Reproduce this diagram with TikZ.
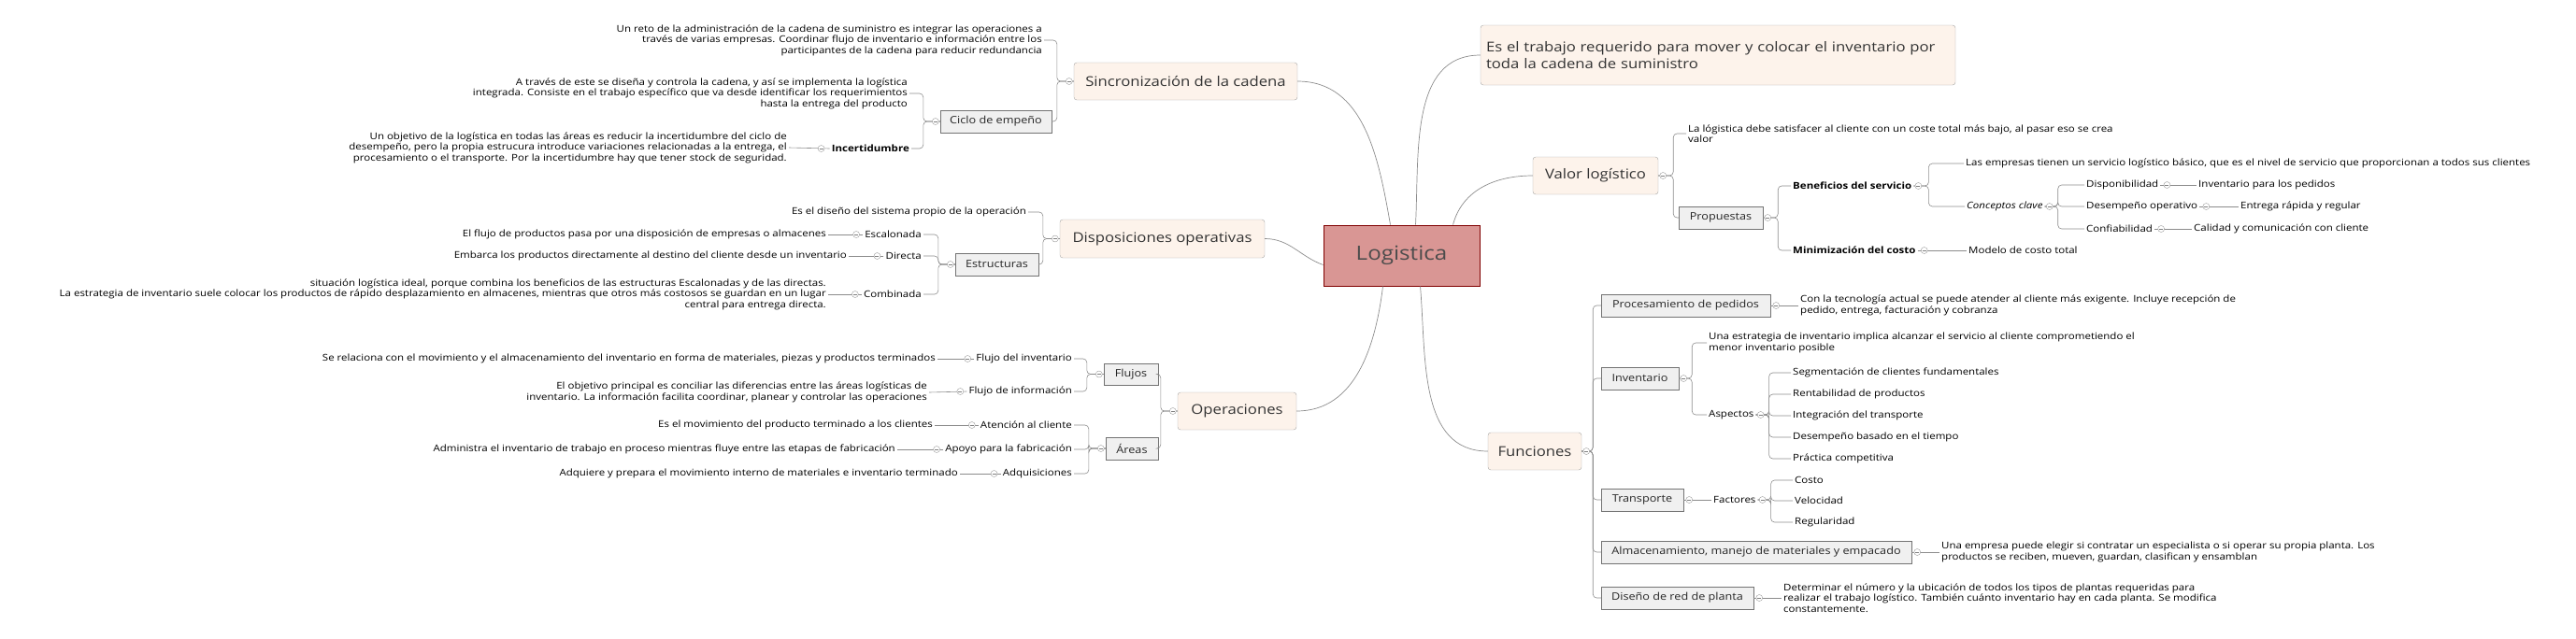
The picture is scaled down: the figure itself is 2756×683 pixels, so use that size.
\documentclass[tikz,border=0pt]{standalone}
\usepackage{fontspec}
\setmainfont{Open Sans}[FakeStretch=1.15]
\definecolor{cbox}{RGB}{217,150,148}
\definecolor{mfill}{RGB}{253,243,235}
\begin{document}
\begin{tikzpicture}[x=1pt,y=-1pt,
  every node/.style={inner sep=2pt, font=\fontsize{10}{11.5}\selectfont},
  mainbox/.style={draw=black!35, fill=mfill, rounded corners=3pt, font=\fontsize{14.5}{18.5}\selectfont, text=black!80},
  subbox/.style={draw=black!55, fill=black!6, font=\fontsize{11}{13}\selectfont, text=black!85},
  lt/.style={align=right, anchor=east},
  rt/.style={align=left, anchor=west},
  br/.style={draw=black!45, rounded corners=4pt, line width=0.6pt},
  cv/.style={draw=black!45, line width=0.7pt},
  clp/.style={circle, draw=black!40, fill=white, minimum size=7pt, inner sep=0pt,
     path picture={\draw[black!50] ([xshift=-2pt]path picture bounding box.center)--([xshift=2pt]path picture bounding box.center);}}
]
\path[use as bounding box] (0,0) rectangle (2756,683);

% ---------- center ----------
\node[draw=red!50!black, fill=cbox, line width=1pt, minimum width=167, minimum height=65, font=\fontsize{21}{26}\selectfont, text=black!70] (log) at (1499.5,273.5) {Logistica};

% ---------- main nodes ----------
\node[mainbox, minimum width=239, minimum height=40] (sinc) at (1268.5,87) {Sincronización de la cadena};
\node[mainbox, minimum width=219, minimum height=41] (disp) at (1243.5,255.5) {Disposiciones operativas};
\node[mainbox, minimum width=127, minimum height=40] (oper) at (1323.5,440) {Operaciones};
\node[mainbox, minimum width=508, minimum height=64, text width=496, align=left, inner sep=6pt] (top) at (1838,59) {Es el trabajo requerido para mover y colocar el inventario por\\toda la cadena de suministro};
\node[mainbox, minimum width=134, minimum height=40] (valor) at (1707,188) {Valor logístico};
\node[mainbox, minimum width=100, minimum height=40] (func) at (1642,483) {Funciones};

\draw[cv] ([xshift=-12pt]log.north) to[out=100,in=0] (sinc.east);
\draw[cv] ([xshift=15pt]log.north) to[out=87,in=180] (top.west);
\draw[cv] ([xshift=55pt]log.north) to[out=75,in=180] (valor.west);
\draw[cv] ([yshift=-10pt]log.west) to[out=160,in=0] (disp.east);
\draw[cv] ([xshift=-20pt]log.south) to[out=-97,in=0] (oper.east);
\draw[cv] ([xshift=20pt]log.south) to[out=-85,in=180] (func.west);

% ---------- Sincronizacion ----------
\node[lt] (tsinc) at (1117,43) {Un reto de la administración de la cadena de suministro es integrar las operaciones a\\través de varias empresas. Coordinar flujo de inventario e información entre los\\participantes de la cadena para reducir redundancia};
\node[subbox, minimum width=119, minimum height=24] (ciclo) at (1065.5,130) {Ciclo de empeño};
\node[lt] (tciclo) at (973,100) {A través de este se diseña y controla la cadena, y así se implementa la logística\\integrada. Consiste en el trabajo específico que va desde identificar los requerimientos\\hasta la entrega del producto};
\node[lt, font=\fontsize{10}{11.5}\selectfont\bfseries] (incert) at (975,159) {Incertidumbre};
\node[lt] (tincert) at (844,158) {Un objetivo de la logística en todas las áreas es reducir la incertidumbre del ciclo de\\desempeño, pero la propia estrucura introduce variaciones relacionadas a la entrega, el\\procesamiento o el transporte. Por la incertidumbre hay que tener stock de seguridad.};
\foreach \c in {tsinc,ciclo} \draw[br] (sinc.west) -- ++(-18,0) |- (\c.east);
\foreach \c in {tciclo,incert} \draw[br] (ciclo.west) -- ++(-18,0) |- (\c.east);
\draw[br] (incert.west) -- (tincert.east);
\node[clp] at ([xshift=-5pt]sinc.west) {};
\node[clp] at ([xshift=-5pt]ciclo.west) {};
\node[clp] at ([xshift=-9pt]incert.west) {};

% ---------- Disposiciones ----------
\node[lt] (tdisp) at (1100,227) {Es el diseño del sistema propio de la operación};
\node[subbox, minimum width=89, minimum height=24] (estr) at (1066.5,283) {Estructuras};
\node[lt] (escal) at (988,251) {Escalonada};
\node[lt] (tescal) at (886,251) {El flujo de productos pasa por una disposición de empresas o almacenes};
\node[lt] (direc) at (988,274) {Directa};
\node[lt] (tdirec) at (908,274) {Embarca los productos directamente al destino del cliente desde un inventario};
\node[lt] (comb) at (988,315) {Combinada};
\node[lt] (tcomb) at (886,315) {situación logística ideal, porque combina los beneficios de las estructuras Escalonadas y de las directas.\\La estrategia de inventario suele colocar los productos de rápido desplazamiento en almacenes, mientras que otros más costosos se guardan  en un lugar\\central para entrega directa.};
\foreach \c in {tdisp,estr} \draw[br] (disp.west) -- ++(-18,0) |- (\c.east);
\foreach \c in {escal,direc,comb} \draw[br] (estr.west) -- ++(-18,0) |- (\c.east);
\draw[br] (escal.west) -- (tescal.east);
\draw[br] (direc.west) -- (tdirec.east);
\draw[br] (comb.west) -- (tcomb.east);
\node[clp] at ([xshift=-5pt]disp.west) {};
\node[clp] at ([xshift=-5pt]estr.west) {};
\foreach \c in {escal,direc,comb} \node[clp] at ([xshift=-7pt]\c.west) {};

% ---------- Operaciones ----------
\node[subbox, minimum width=58, minimum height=23] (flujos) at (1210,400.5) {Flujos};
\node[subbox, minimum width=56, minimum height=24] (areas) at (1211,480) {Áreas};
\node[lt] (finv) at (1149,384) {Flujo del inventario};
\node[lt] (tfinv) at (1003,384) {Se relaciona con el movimiento y el almacenamiento del inventario en forma de materiales, piezas y productos terminados};
\node[lt] (finf) at (1149,419) {Flujo de información};
\node[lt] (tfinf) at (994,420) {El objetivo principal es conciliar las diferencias entre las áreas logísticas de\\inventario. La información facilita coordinar, planear y controlar las operaciones};
\node[lt] (aten) at (1149,455) {Atención al cliente};
\node[lt] (taten) at (1000,455) {Es el movimiento del producto terminado a los clientes};
\node[lt] (apoyo) at (1149,481) {Apoyo para la fabricación};
\node[lt] (tapoyo) at (960,481) {Administra el inventario de trabajo en proceso mientras fluye entre las etapas de fabricación};
\node[lt] (adq) at (1149,507) {Adquisiciones};
\node[lt] (tadq) at (1027,507) {Adquiere y prepara el movimiento interno de materiales e inventario terminado};
\foreach \c in {flujos,areas} \draw[br] (oper.west) -- ++(-18,0) |- (\c.east);
\foreach \c in {finv,finf} \draw[br] (flujos.west) -- ++(-18,0) |- (\c.east);
\foreach \c in {aten,apoyo,adq} \draw[br] (areas.west) -- ++(-18,0) |- (\c.east);
\foreach \a/\b in {finv/tfinv,finf/tfinf,aten/taten,apoyo/tapoyo,adq/tadq} {\draw[br] (\a.west) -- (\b.east); \node[clp] at ([xshift=-7pt]\a.west) {};}
\foreach \c in {oper,flujos,areas} \node[clp] at ([xshift=-5pt]\c.west) {};

% ---------- Valor logistico ----------
\node[rt] (tvalor) at (1804,143) {La lógistica debe satisfacer al cliente con un coste total más bajo, al pasar eso se crea\\valor};
\node[subbox, minimum width=90, minimum height=24] (prop) at (1841,233) {Propuestas};
\node[rt, font=\fontsize{10}{11.5}\selectfont\bfseries] (benef) at (1916,199) {Beneficios del servicio};
\node[rt, font=\fontsize{10}{11.5}\selectfont\bfseries] (minim) at (1916,268) {Minimización del costo};
\node[rt] (modelo) at (2104,268) {Modelo de costo total};
\node[rt] (tbenef) at (2101,175) {Las empresas tienen un servicio logístico básico, que es el nivel de servicio que proporcionan a todos sus clientes};
\node[rt, font=\fontsize{10}{11.5}\selectfont\itshape] (concep) at (2102,221) {Conceptos clave};
\node[rt] (dispo) at (2230,198) {Disponibilidad};
\node[rt] (tdispo) at (2350,198) {Inventario para los pedidos};
\node[rt] (desem) at (2230,221) {Desempeño operativo};
\node[rt] (tdesem) at (2395,221) {Entrega rápida y regular};
\node[rt] (confi) at (2230,245) {Confiabilidad};
\node[rt] (tconfi) at (2345,245) {Calidad y comunicación con cliente};
\foreach \c in {tvalor,prop} \draw[br] (valor.east) -- ++(16,0) |- (\c.west);
\foreach \c in {benef,minim} \draw[br] (prop.east) -- ++(16,0) |- (\c.west);
\foreach \c in {tbenef,concep} \draw[br] (benef.east) -- ++(16,0) |- (\c.west);
\foreach \c in {dispo,desem,confi} \draw[br] (concep.east) -- ++(14,0) |- (\c.west);
\foreach \a/\b in {minim/modelo,dispo/tdispo,desem/tdesem,confi/tconfi} {\draw[br] (\a.east) -- (\b.west); \node[clp] at ([xshift=7pt]\a.east) {};}
\foreach \c in {valor,prop,benef,concep} \node[clp] at ([xshift=5pt]\c.east) {};

% ---------- Funciones ----------
\node[subbox, minimum width=181, minimum height=24] (proc) at (1803.5,327) {Procesamiento de pedidos};
\node[rt] (tproc) at (1924,327) {Con la tecnología actual se puede atender al cliente más exigente. Incluye recepción de\\pedido, entrega, facturación y cobranza};
\node[subbox, minimum width=83, minimum height=24] (inv) at (1754.5,405) {Inventario};
\node[rt] (tinv) at (1826,367) {Una estrategia de inventario implica alcanzar el servicio al cliente comprometiendo el\\menor inventario posible};
\node[rt] (asp) at (1826,444) {Aspectos};
\node[rt] (a1) at (1916,399) {Segmentación de clientes fundamentales};
\node[rt] (a2) at (1916,422) {Rentabilidad de productos};
\node[rt] (a3) at (1916,445) {Integración del transporte};
\node[rt] (a4) at (1916,468) {Desempeño basado en el tiempo};
\node[rt] (a5) at (1916,491) {Práctica competitiva};
\node[subbox, minimum width=88, minimum height=24] (transp) at (1757,535) {Transporte};
\node[rt] (fact) at (1831,535) {Factores};
\node[rt] (f1) at (1918,514) {Costo};
\node[rt] (f2) at (1918,536) {Velocidad};
\node[rt] (f3) at (1918,559) {Regularidad};
\node[subbox, minimum width=332, minimum height=24] (alm) at (1879,591) {Almacenamiento, manejo de materiales y empacado};
\node[rt] (talm) at (2075,591) {Una empresa puede elegir si contratar un especialista o si operar su propia planta. Los\\productos se reciben, mueven, guardan, clasifican y ensamblan};
\node[subbox, minimum width=163, minimum height=24] (dis) at (1794.5,640) {Diseño de red de planta};
\node[rt] (tdis) at (1906,640) {Determinar el número y la ubicación de todos los tipos de plantas requeridas para\\realizar el trabajo logístico. También cuánto inventario hay en cada planta. Se modifica\\constantemente.};
\foreach \c in {proc,inv,transp,alm,dis} \draw[br] (func.east) -- ++(12,0) |- (\c.west);
\foreach \c in {tinv,asp} \draw[br] (inv.east) -- ++(14,0) |- (\c.west);
\foreach \c in {a1,a2,a3,a4,a5} \draw[br] (asp.east) -- ++(14,0) |- (\c.west);
\foreach \c in {f1,f2,f3} \draw[br] (fact.east) -- ++(14,0) |- (\c.west);
\foreach \a/\b in {proc/tproc,transp/fact,alm/talm,dis/tdis} {\draw[br] (\a.east) -- (\b.west); \node[clp] at ([xshift=6pt]\a.east) {};}
\foreach \c in {func,inv,asp,fact} \node[clp] at ([xshift=5pt]\c.east) {};
\end{tikzpicture}
\end{document}
